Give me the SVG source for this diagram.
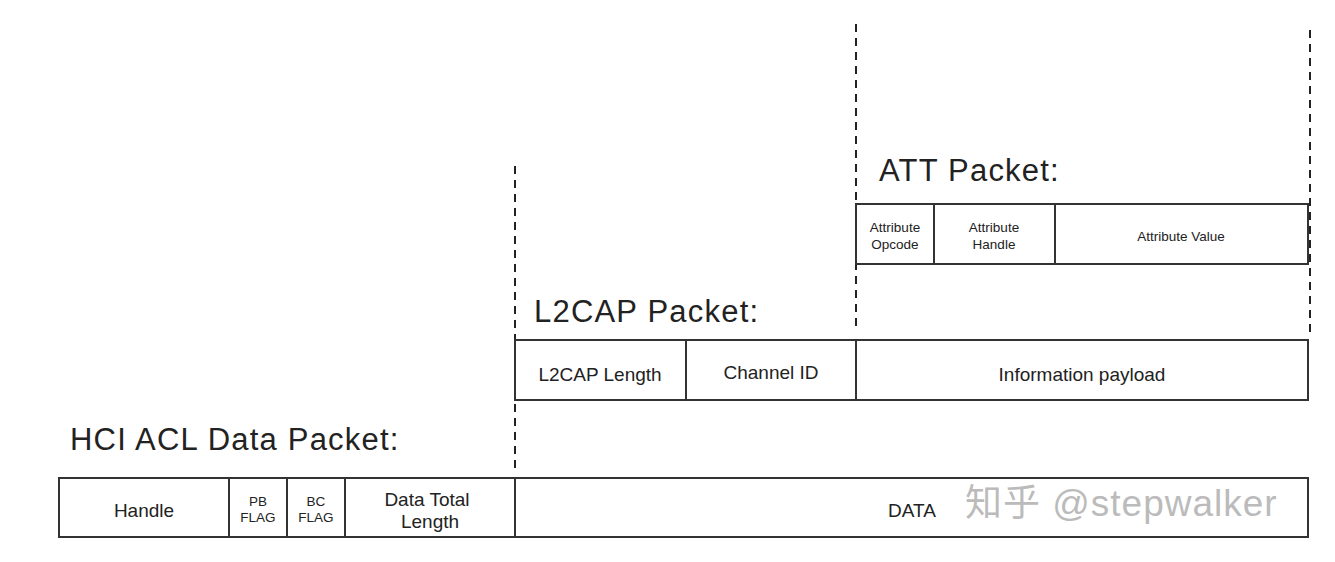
<svg xmlns="http://www.w3.org/2000/svg" width="1335" height="562" viewBox="0 0 1335 562">
<style>
.b{fill:#fff;stroke:#333;stroke-width:2}
.d{stroke:#222;stroke-width:2;stroke-dasharray:8,6;fill:none}
text{font-family:"Liberation Sans",Arial,sans-serif;fill:#222;text-anchor:middle}
.t{font-size:31px;text-anchor:start;letter-spacing:1.2px}
.m{font-size:19px}
.s{font-size:13.5px}
</style>
<rect width="1335" height="562" fill="#fff"/>
<g id="connectors">
<line class="d" x1="515" y1="166" x2="515" y2="470"/>
<line class="d" x1="856" y1="24" x2="856" y2="328"/>
<line class="d" x1="1310" y1="30" x2="1310" y2="332"/>
</g>
<g id="att">
<text class="t" x="879" y="181">ATT Packet:</text>
<rect class="b" x="856" y="204" width="78" height="60"/>
<text class="s" x="895" y="232">Attribute</text><text class="s" x="895" y="249">Opcode</text>
<rect class="b" x="934" y="204" width="121" height="60"/>
<text class="s" x="994" y="232">Attribute</text><text class="s" x="994" y="249">Handle</text>
<rect class="b" x="1055" y="204" width="253" height="60"/>
<text class="s" x="1181" y="241">Attribute Value</text>
</g>
<g id="l2cap">
<text class="t" x="534" y="322">L2CAP Packet:</text>
<rect class="b" x="515" y="340" width="171" height="60"/>
<text class="m" x="600" y="381">L2CAP Length</text>
<rect class="b" x="686" y="340" width="170" height="60"/>
<text class="m" x="771" y="379">Channel ID</text>
<rect class="b" x="856" y="340" width="452" height="60"/>
<text class="m" x="1082" y="381">Information payload</text>
</g>
<g id="hci">
<text class="t" x="70" y="450">HCI ACL Data Packet:</text>
<rect class="b" x="59" y="478" width="170" height="59"/>
<text class="m" x="144" y="517">Handle</text>
<rect class="b" x="229" y="478" width="58" height="59"/>
<text class="s" x="258" y="506">PB</text><text class="s" x="258" y="522">FLAG</text>
<rect class="b" x="287" y="478" width="58" height="59"/>
<text class="s" x="316" y="506">BC</text><text class="s" x="316" y="522">FLAG</text>
<rect class="b" x="345" y="478" width="170" height="59"/>
<text class="m" x="427" y="506">Data Total</text><text class="m" x="430" y="528">Length</text>
<rect class="b" x="515" y="478" width="793" height="59"/>
<text class="m" x="912" y="517">DATA</text>
</g>
<text x="965" y="516" style="text-anchor:start;font-size:37px;letter-spacing:1px;fill:#bbb;font-family:'Liberation Sans','Noto Sans CJK SC',sans-serif">知乎 @stepwalker</text>
</svg>
